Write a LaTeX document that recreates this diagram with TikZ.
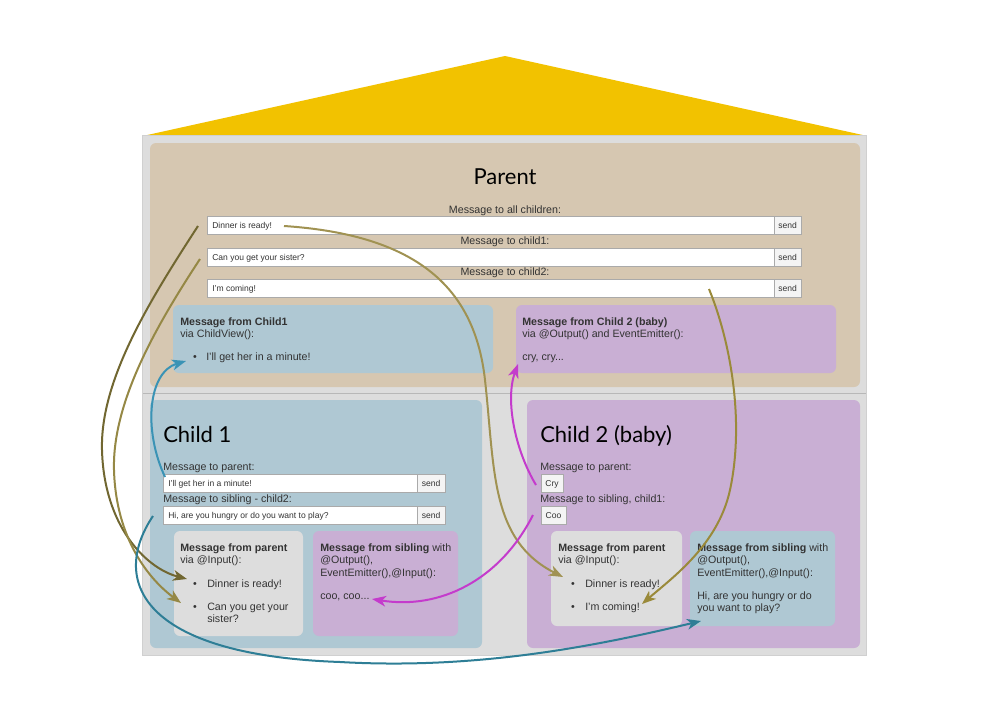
\documentclass[tikz,border=0pt]{standalone}
\usepackage{fontspec}
\setmainfont{Liberation Sans}
\newfontfamily\lato{Lato}
\usetikzlibrary{arrows.meta}
\definecolor{roof}{HTML}{F2C200}
\definecolor{house}{HTML}{DDDDDD}
\definecolor{houseedge}{HTML}{D0D0D0}
\definecolor{tan}{HTML}{D6C7B1}
\definecolor{bluebox}{HTML}{AFC8D3}
\definecolor{purplebox}{HTML}{C9AFD4}
\definecolor{graybox}{HTML}{DDDDDD}
\definecolor{txt}{HTML}{333333}
\definecolor{inborder}{HTML}{AAAAAA}
\definecolor{btnfill}{HTML}{F4F4F4}
\definecolor{hrc}{HTML}{B8B8B8}
\definecolor{oliveA}{HTML}{716731}
\definecolor{oliveB}{HTML}{958845}
\definecolor{oliveC}{HTML}{A09252}
\definecolor{oliveD}{HTML}{9A8A3A}
\definecolor{tealA}{HTML}{3A93B5}
\definecolor{tealB}{HTML}{2E7E96}
\definecolor{magenta}{HTML}{C43BCC}
\begin{document}
\begin{tikzpicture}[x=0.75pt,y=-0.75pt,
  body/.style={anchor=base west,inner sep=0pt,font=\fontsize{8}{9}\selectfont,text=txt},
  bodyc/.style={body,anchor=base},
  smalltxt/.style={anchor=base west,inner sep=0pt,font=\fontsize{6.4}{7}\selectfont,text=txt},
  smallc/.style={smalltxt,anchor=base},
  titletxt/.style={anchor=base west,inner sep=0pt,font=\lato\fontsize{16.5}{18}\selectfont,text=black},
  inbox/.style={fill=white,draw=inborder,line width=0.75pt},
  btn/.style={fill=btnfill,draw=inborder,line width=0.75pt},
  panel/.style={rounded corners=4.5pt},
  conn/.style={line width=1.5pt,-{Stealth[length=10.5pt,width=8pt,inset=3pt]}},
]
\useasboundingbox (0,0) rectangle (1001,707);
\fill[white] (0,0) rectangle (1001,707);

% roof and house
\fill[roof] (145,135.5) -- (505,56) -- (865,135.5) -- cycle;
\filldraw[fill=house,draw=houseedge,line width=0.75pt] (142.5,135.5) rectangle (866,655);

% parent panel
\fill[tan,panel] (150,143) rectangle (860,387);
\draw[hrc,line width=1.2pt] (143,393.5) -- (866,393.5);

\node[titletxt,anchor=base] (ptitle) at (505,184) {Parent};
\node[bodyc] (l1) at (505,213) {Message to all children:};
\draw[inbox] (207,216) rectangle (774,234);
\draw[btn] (774,216) rectangle (801,234);
\node[smalltxt] (in1) at (212,228) {Dinner is ready!};
\node[smallc] (s1) at (787.5,228) {send};
\node[bodyc] (l2) at (505,244) {Message to child1:};
\draw[inbox] (207,248) rectangle (774,266);
\draw[btn] (774,248) rectangle (801,266);
\node[smalltxt] (in2) at (212,260) {Can you get your sister?};
\node[smallc] (s2) at (787.5,260) {send};
\node[bodyc] (l3) at (505,275) {Message to child2:};
\draw[inbox] (207,279) rectangle (774,297);
\draw[btn] (774,279) rectangle (801,297);
\node[smalltxt] (in3) at (212,291) {I'm coming!};
\node[smallc] (s3) at (787.5,291) {send};

\fill[bluebox,panel] (173,305) rectangle (493,373);
\node[body] (pb1) at (180,325) {\textbf{Message from Child1}};
\node[body] (pb2) at (180,337) {via ChildView():};
\node[bodyc] (pb3) at (195,360) {•};
\node[body] (pb4) at (206,360) {I'll get her in a minute!};

\fill[purplebox,panel] (516,305) rectangle (836,373);
\node[body] (pp1) at (522,325) {\textbf{Message from Child 2 (baby)}};
\node[body] (pp2) at (522,337) {via @Output() and EventEmitter():};
\node[body] (pp3) at (522,360) {cry, cry...};

% child 1
\fill[bluebox,panel] (150,400) rectangle (482,648);
\node[titletxt] (c1title) at (163,442) {Child 1};
\node[body] (c1l1) at (163,470) {Message to parent:};
\draw[inbox] (163,474) rectangle (417,492);
\draw[btn] (417,474) rectangle (445,492);
\node[smalltxt] (c1in1) at (168,486) {I'll get her in a minute!};
\node[smallc] (c1s1) at (431,486) {send};
\node[body] (c1l2) at (163,502) {Message to sibling - child2:};
\draw[inbox] (163,506) rectangle (417,524);
\draw[btn] (417,506) rectangle (445,524);
\node[smalltxt] (c1in2) at (168,518) {Hi, are you hungry or do you want to play?};
\node[smallc] (c1s2) at (431,518) {send};

\fill[graybox,panel] (174,531) rectangle (303,636);
\node[body] (c1g1) at (180,551) {\textbf{Message from parent}};
\node[body] (c1g2) at (180,563) {via @Input():};
\node[bodyc] (c1g3) at (195,587) {•};
\node[body] (c1g4) at (207,587) {Dinner is ready!};
\node[bodyc] (c1g5) at (195,610) {•};
\node[body] (c1g6) at (207,610) {Can you get your};
\node[body] (c1g7) at (207,622) {sister?};

\fill[purplebox,panel] (313,531) rectangle (458,636);
\node[body] (c1p1) at (320,551) {\textbf{Message from sibling} with};
\node[body] (c1p2) at (320,563) {@Output(),};
\node[body] (c1p3) at (320,576) {EventEmitter(),@Input():};
\node[body] (c1p4) at (320,599) {coo, coo...};

% child 2
\fill[purplebox,panel] (527,400) rectangle (860,648);
\node[titletxt] (c2title) at (540,442) {Child 2 (baby)};
\node[body] (c2l1) at (540,470) {Message to parent:};
\draw[btn] (541,474) rectangle (563,492);
\node[smallc] (cry) at (552,486) {Cry};
\node[body] (c2l2) at (540,502) {Message to sibling, child1:};
\draw[btn] (541,506) rectangle (566,524);
\node[smallc] (coo) at (553.5,518) {Coo};

\fill[graybox,panel] (551,531) rectangle (682,626);
\node[body] (c2g1) at (558,551) {\textbf{Message from parent}};
\node[body] (c2g2) at (558,563) {via @Input():};
\node[bodyc] (c2g3) at (573,587) {•};
\node[body] (c2g4) at (585,587) {Dinner is ready!};
\node[bodyc] (c2g5) at (573,610) {•};
\node[body] (c2g6) at (585,610) {I'm coming!};

\fill[bluebox,panel] (690,531) rectangle (835,626);
\node[body] (c2b1) at (697,551) {\textbf{Message from sibling} with};
\node[body] (c2b2) at (697,563) {@Output(),};
\node[body] (c2b3) at (697,576) {EventEmitter(),@Input():};
\node[body] (c2b4) at (697,599) {Hi, are you hungry or do};
\node[body] (c2b5) at (697,611) {you want to play?};

% connector end points
\coordinate (a1s) at (198,226);
\coordinate (a1e) at (187,579);
\coordinate (a2s) at (200,259);
\coordinate (a2e) at (181,603);
\coordinate (a3s) at (165,477);
\coordinate (a3e) at (186,361);
\coordinate (a4s) at (153,516);
\coordinate (a4e) at (701,621);
\coordinate (a5s) at (284,226);
\coordinate (a5e) at (563,577);
\coordinate (a6s) at (709,289);
\coordinate (a6e) at (642,604);
\coordinate (a7s) at (536,485);
\coordinate (a7e) at (518,364);
\coordinate (a8s) at (533,515);
\coordinate (a8e) at (372,599);

% connectors
\draw[conn,oliveA] (a1s) .. controls (150,300) and (100,380) .. (102,450)
  .. controls (104,525) and (145,568) .. (a1e);
\draw[conn,oliveB] (a2s) .. controls (160,320) and (112,400) .. (114,470)
  .. controls (116,540) and (150,580) .. (a2e);
\draw[conn,tealA] (a3s) .. controls (143,430) and (148,372) .. (a3e);
\draw[conn,tealB] (a4s) .. controls (110,580) and (140,655) .. (340,662)
  .. controls (480,670) and (600,645) .. (a4e);
\draw[conn,oliveC] (a5s) .. controls (420,235) and (475,290) .. (485,380)
  .. controls (495,470) and (490,540) .. (a5e);
\draw[conn,oliveD] (a6s) .. controls (730,340) and (745,420) .. (730,490)
  .. controls (718,545) and (672,578) .. (a6e);
\draw[conn,magenta] (a7s) .. controls (515,450) and (505,400) .. (a7e);
\draw[conn,magenta] (a8s) .. controls (500,580) and (440,610) .. (a8e);
\end{tikzpicture}
\end{document}
